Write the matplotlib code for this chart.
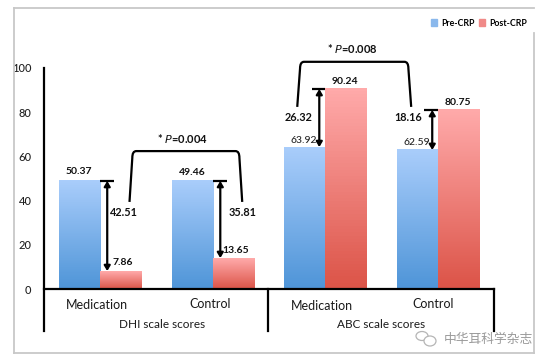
import numpy as np
import matplotlib
matplotlib.use("Agg")
import matplotlib.pyplot as plt
from matplotlib.colors import LinearSegmentedColormap
from matplotlib.lines import Line2D
from matplotlib.patches import Ellipse, PathPatch, Patch
from matplotlib.path import Path

plt.rcParams["font.family"] = ["Lato", "DejaVu Sans"]

groups = ["Medication", "Control", "Medication", "Control"]
scales = ["DHI scale scores", "ABC scale scores"]
pre_heights = [48.9, 48.9, 64.2, 62.9]
post_heights = [8.1, 14.0, 90.5, 81.0]
pre_labels = ["50.37", "49.46", "63.92", "62.59"]
post_labels = ["7.86", "13.65", "90.24", "80.75"]
diff_labels = ["42.51", "35.81", "26.32", "18.16"]
p_labels = ["0.004", "0.008"]
yticks = [0, 20, 40, 60, 80, 100]

W, H = 551, 363
BAR_W = 0.365

fig = plt.figure(figsize=(W / 100, H / 100), dpi=100)
fig.patch.set_facecolor("white")
ax = fig.add_axes([44 / W, 1 - 289 / H, 450 / W, 221 / H])
ax.set_facecolor("none")
ax.set_xlim(-0.5, 3.5)
ax.set_ylim(0, 100)
for s in ax.spines.values():
    s.set_visible(False)
ax.set_xticks([])
ax.set_yticks(yticks)
ax.tick_params(axis="y", length=0, pad=9, labelsize=8, labelcolor="#222222")
for t in ax.get_yticklabels():
    t.set_fontweight("medium")

# outer frame, gap on the right where the legend sits
for xs, ys in [([14, 534], [8, 8]), ([14, 14], [8, 353]), ([14, 534], [353, 353]), ([534, 534], [33, 353])]:
    fig.add_artist(Line2D([x / W for x in xs], [1 - y / H for y in ys], color="#c8c8c8", lw=1.3))

pre_cmap = LinearSegmentedColormap.from_list("pre", ["#a9cdfb", "#4f95d8"])
post_cmap = LinearSegmentedColormap.from_list("post", ["#ffaaaa", "#dc5448"])
grad = np.linspace(0, 1, 64).reshape(-1, 1)

x = np.arange(len(groups))
pre_bars = ax.bar(x - BAR_W / 2, pre_heights, BAR_W, color="none")
post_bars = ax.bar(x + BAR_W / 2, post_heights, BAR_W, color="none")
for bars, cmap in [(pre_bars, pre_cmap), (post_bars, post_cmap)]:
    for b in bars:
        ax.imshow(grad, cmap=cmap, aspect="auto", zorder=2,
                  extent=[b.get_x(), b.get_x() + b.get_width(), 0, b.get_height()])
ax.set_xlim(-0.5, 3.5)
ax.set_ylim(0, 100)

# axes and group dividers
axis_kw = dict(color="black", lw=1.6, clip_on=False, zorder=5)
ax.plot([-0.5, -0.5], [-19, 100], **axis_kw)
ax.plot([-0.5, 3.5], [0, 0], **axis_kw)
ax.plot([1.493, 1.493], [-19, 0], **axis_kw)
ax.plot([3.5, 3.5], [-19, 0], **axis_kw)

txt = dict(ha="center", va="center", color="#1a1a1a", clip_on=False)
cat_pos = [(-0.03, -7.4), (0.98, -6.9), (1.97, -7.8), (2.96, -7.0)]
for name, (cx, cy) in zip(groups, cat_pos):
    ax.text(cx, cy, name, fontsize=9, **txt)
ax.text(0.55, -15.9, scales[0], fontsize=8.5, **txt)
ax.text(2.50, -16.2, scales[1], fontsize=8.5, **txt)

bold = dict(ha="center", va="center", fontweight="bold", color="#111111", clip_on=False, zorder=6)
plain = dict(ha="center", va="center", fontweight="medium", color="#222222", clip_on=False, zorder=6)

# value labels
pre_pos = [(-0.187, 53.0), (0.82, 52.5), (1.813, 67.4), (2.818, 66.5)]
post_pos = [(0.20, 11.8), (1.20, 17.6), (2.178, 94.1), (3.18, 84.6)]
for i, (lab, (lx, ly)) in enumerate(zip(pre_labels, pre_pos)):
    ax.text(lx, ly, lab, fontsize=7.5, **(bold if i < 2 else plain))
for lab, (lx, ly) in zip(post_labels, post_pos):
    ax.text(lx, ly, lab, fontsize=7.5, **bold)

# difference arrows with a cap on the higher bar
arrow_x = [0.062, 1.067, 1.947, 2.951]
cap_x = [(0.0, 0.12), (1.0, 1.13), (1.88, 2.0), (2.88, 3.0)]
for i in range(len(groups)):
    lo, hi = sorted([pre_heights[i], post_heights[i]])
    ax.annotate("", xy=(arrow_x[i], lo), xytext=(arrow_x[i], hi), zorder=6,
                arrowprops=dict(arrowstyle="<|-|>,head_width=0.18,head_length=0.3", color="black", lw=1.6,
                                shrinkA=0, shrinkB=0))
    ax.plot(cap_x[i], [hi, hi], color="black", lw=1.6, zorder=6, solid_capstyle="butt")

diff_pos = [(0.213, 34.8), (1.262, 34.4), (1.76, 77.8), (2.738, 77.8)]
for lab, (lx, ly) in zip(diff_labels, diff_pos):
    ax.text(lx, ly, lab, fontsize=7.8, **bold)


def bracket(x0, x1, y0, ytop):
    dx, dy, lean = 0.035, 3, 0.025
    verts = [(x0, y0), (x0 + lean, ytop - dy), (x0 + lean, ytop), (x0 + lean + dx, ytop),
             (x1 - lean - dx, ytop), (x1 - lean, ytop), (x1 - lean, ytop - dy), (x1, y0)]
    codes = [Path.MOVETO, Path.LINETO, Path.CURVE3, Path.CURVE3, Path.LINETO,
             Path.CURVE3, Path.CURVE3, Path.LINETO]
    ax.add_patch(PathPatch(Path(verts, codes), fc="none", ec="black", lw=1.6, clip_on=False, zorder=6))


bracket(0.26, 1.262, 39.4, 62.4)
bracket(1.751, 2.764, 82.4, 102.8)
ax.text(0.73, 67.9, "* $\\mathit{P}$=" + p_labels[0], fontsize=8, **bold)
ax.text(2.24, 109.0, "* $\\mathit{P}$=" + p_labels[1], fontsize=8, **bold)

# legend
handles = [Patch(color="#8ab8ec"), Patch(color="#f08a88")]
fig.legend(handles, ["Pre-CRP", "Post-CRP"], loc="center right", bbox_to_anchor=(535 / W, 1 - 23 / H),
           ncol=2, frameon=False, handlelength=0.7, handleheight=0.7,
           handletextpad=0.45, columnspacing=0.55, prop={"weight": "bold", "size": 6.3})

# watermark
fig.text(488 / W, 1 - 340 / H, "中华耳科学杂志", color="#9a9a9a", ha="center", va="center",
         fontsize=9.2, family=["Noto Sans CJK SC", "DejaVu Sans"])
over = fig.add_axes([0, 0, 1, 1], facecolor="none")
over.set_xlim(0, W)
over.set_ylim(H, 0)
over.axis("off")
over.add_patch(Ellipse((422, 336), 12, 9, fc="white", ec="#b5b5b5", lw=0.9))
over.add_patch(Ellipse((430, 341), 12, 10, fc="white", ec="#b5b5b5", lw=0.9))

fig.savefig("out.png", dpi=100)
